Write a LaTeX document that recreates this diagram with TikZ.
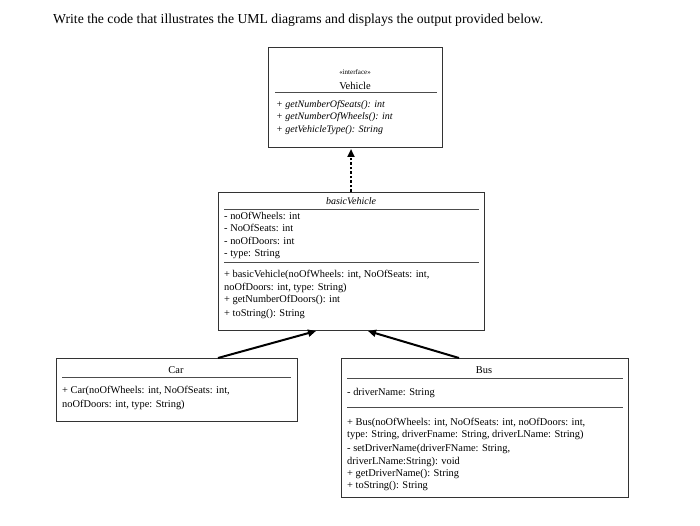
\documentclass[tikz,border=0pt]{standalone}
\usepackage{fontspec}
\setmainfont{Liberation Serif}
\usetikzlibrary{arrows.meta}
\begin{document}
\begin{tikzpicture}[x=1pt,y=-1pt,
  box/.style={draw=black!80,line width=0.8pt},
  sep/.style={draw=black!70,line width=1pt},
  t/.style={anchor=west,inner sep=0pt,font=\fontsize{10.4}{11}\selectfont},
  c/.style={anchor=center,inner sep=0pt,font=\fontsize{10.4}{11}\selectfont},
  it/.style={anchor=west,inner sep=0pt,font=\fontsize{10}{11}\itshape},
  inh/.style={line width=2pt,-{Triangle[length=8pt,width=7pt]}}]
\useasboundingbox (0,0) rectangle (700,526);
\node[anchor=west,inner sep=0pt,font=\fontsize{13.7}{15}\selectfont] (title) at (53,20) {Write the code that illustrates the UML diagrams and displays the output provided below.};
% Vehicle
\draw[box] (268,47) rectangle (442,147);
\node[inner sep=0pt,minimum width=174pt,minimum height=100pt] (veh) at (355,97) {};
\node[c,font=\fontsize{7}{8}\selectfont] (st) at (355,72) {\textless\textless interface\textgreater\textgreater};
\node[c,font=\fontsize{10.5}{11}\selectfont] (vn) at (355,86) {Vehicle};
\draw[sep] (275,93) -- (437,93);
\node[it] (v1) at (276,105) {+ getNumberOfSeats(): int};
\node[it] (v2) at (276,117) {+ getNumberOfWheels(): int};
\node[it] (v3) at (276,130) {+ getVehicleType(): String};
% basicVehicle
\draw[box] (218,192) rectangle (484,330);
\node[inner sep=0pt,minimum width=266pt,minimum height=138pt] (bv) at (351,261) {};
\node[c,font=\fontsize{10}{11}\itshape] (bvn) at (351,201) {basicVehicle};
\draw[sep] (224,210) -- (479,210);
\node[t] (a1) at (224,216) {- noOfWheels: int};
\node[t] (a2) at (224,228) {- NoOfSeats: int};
\node[t] (a3) at (224,241) {- noOfDoors: int};
\node[t] (a4) at (224,254) {- type: String};
\draw[sep] (224,262) -- (479,262);
\node[t] (m1) at (224,275) {+ basicVehicle(noOfWheels: int, NoOfSeats: int,};
\node[t] (m2) at (224,288) {noOfDoors: int, type: String)};
\node[t] (m3) at (224,300) {+ getNumberOfDoors(): int};
\node[t] (m4) at (224,314) {+ toString(): String};
% Car
\draw[box] (56,358) rectangle (297,421);
\node[inner sep=0pt,minimum width=241pt,minimum height=63pt] (car) at (176.5,389.5) {};
\node[c] (cn) at (176,370) {Car};
\draw[sep] (62,377) -- (291,377);
\node[t] (c1) at (62,391) {+ Car(noOfWheels: int, NoOfSeats: int,};
\node[t] (c2) at (62,405) {noOfDoors: int, type: String)};
% Bus
\draw[box] (341,358) rectangle (628,497);
\node[inner sep=0pt,minimum width=287pt,minimum height=139pt] (bus) at (484.5,427.5) {};
\node[c] (bn) at (484,370) {Bus};
\draw[sep] (347,378) -- (623,378);
\node[t] (b0) at (347,393) {- driverName: String};
\draw[sep] (347,407) -- (623,407);
\node[t] (b1) at (347,423) {+ Bus(noOfWheels: int, NoOfSeats: int, noOfDoors: int,};
\node[t] (b2) at (347,435) {type: String, driverFname: String, driverLName: String)};
\node[t] (b3) at (347,449) {- setDriverName(driverFName: String,};
\node[t] (b4) at (347,462) {driverLName:String): void};
\node[t] (b5) at (347,474) {+ getDriverName(): String};
\node[t] (b6) at (347,486) {+ toString(): String};
% connectors
\coordinate (bvtop) at (351,192);
\coordinate (vbot) at (351,149);
\draw[line width=2.5pt,dash pattern=on 2.5pt off 2pt,-{Triangle[length=8pt,width=7pt]}] (bvtop) -- (vbot);
\coordinate (ct) at (218,358);
\coordinate (bvl) at (316,331);
\coordinate (bt) at (459,358);
\coordinate (bvr) at (368,331);
\draw[inh] (ct) -- (bvl);
\draw[inh] (bt) -- (bvr);
\end{tikzpicture}
\end{document}
